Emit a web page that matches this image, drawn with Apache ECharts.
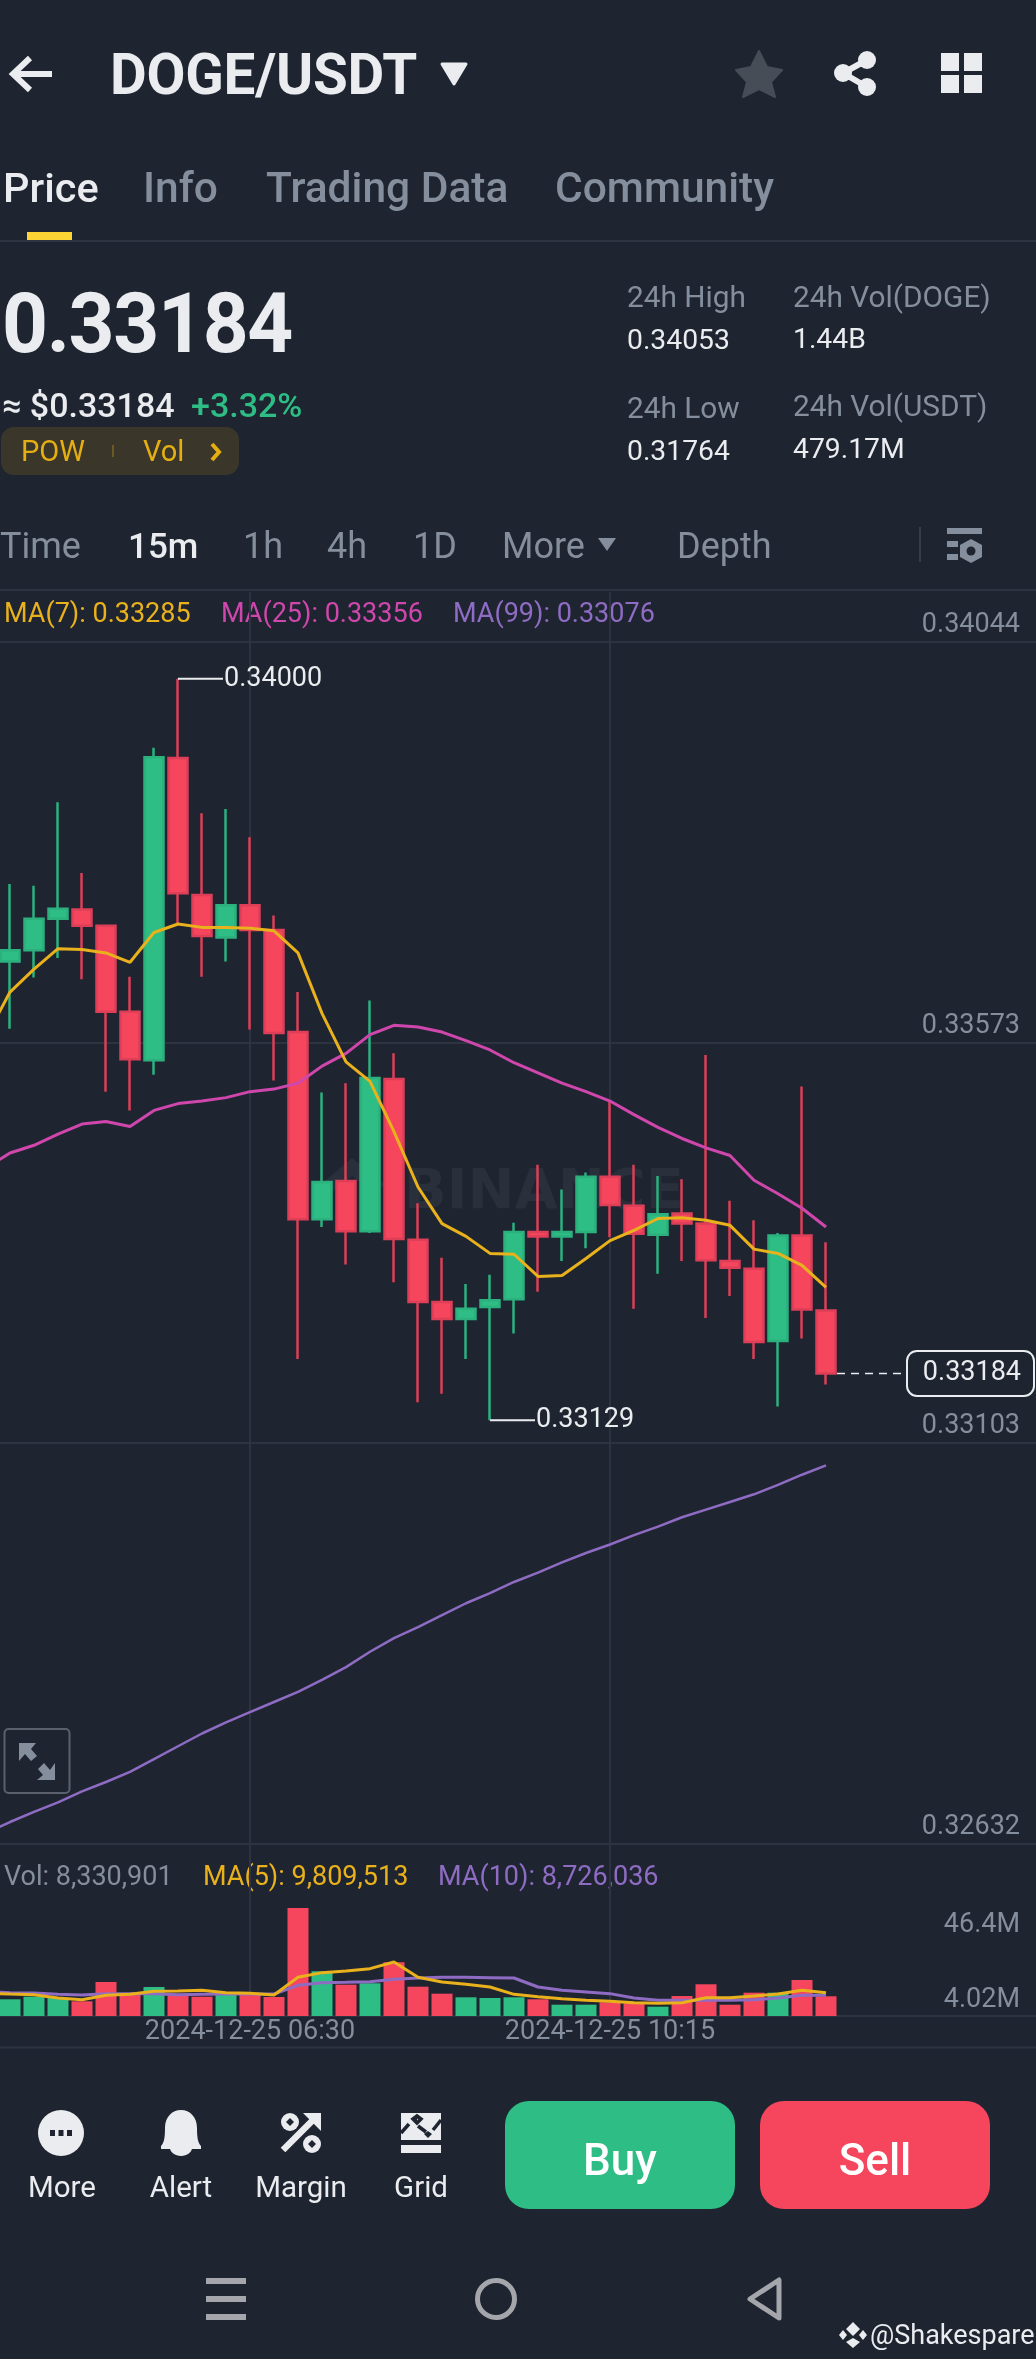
<!DOCTYPE html>
<html>
<head>
<meta charset="utf-8">
<title>DOGE/USDT</title>
<script src="https://cdn.jsdelivr.net/npm/echarts@6/dist/echarts.min.js"></script>
<style>
html, body { margin: 0; padding: 0; background: #1f2530; overflow: hidden; }
#main { position: absolute; left: 0; top: 0; width: 1036px; height: 2359px; }
#chrome { position: absolute; left: 0; top: 0; pointer-events: none; }
#chrome text { font-family: Roboto, sans-serif; dominant-baseline: central; fill: #eaecef; }
.grey { fill: #848e9c !important; }
.sub { font-size: 29.8px; }
.val { font-size: 28.3px; }
.tf { font-size: 36px; }
.tab { font-size: 42.5px; font-weight: 500; }
.foot { font-size: 29.5px; text-anchor: middle; }
</style>
</head>
<body>
<div id="main"></div>
<svg id="chrome" width="1036" height="2359" viewBox="0 0 1036 2359" xmlns="http://www.w3.org/2000/svg">
  <!-- header -->
  <path d="M52 74H14M30 58L13 74L30 90" fill="none" stroke="#eaecef" stroke-width="6"/>
  <text x="110" y="75" style="font-size:56.5px;font-weight:700;letter-spacing:-.2px">DOGE/USDT</text>
  <path d="M442 64H466L454 84Z" fill="#eaecef" stroke="#eaecef" stroke-width="3" stroke-linejoin="round"/>
  <path d="M759 51L767 67L782 70L771 82L775 97L759 89L743 97L747 82L736 70L751 67Z" fill="#474d57" stroke="#474d57" stroke-linejoin="round" stroke-width="2"/>
  <path d="M867 60L843 73L867 87" fill="none" stroke="#eaecef" stroke-width="6"/>
  <circle cx="867" cy="60" r="9" fill="#eaecef"/><circle cx="843" cy="73" r="9" fill="#eaecef"/><circle cx="867" cy="87" r="9" fill="#eaecef"/>
  <rect x="941" y="53" width="18" height="18" fill="#eaecef"/><rect x="964" y="53" width="18" height="18" fill="#eaecef"/>
  <rect x="941" y="75" width="18" height="18" fill="#eaecef"/><rect x="964" y="75" width="18" height="18" fill="#eaecef"/>

  <!-- tabs -->
  <text x="3" y="187" class="tab" style="font-size:41.5px">Price</text>
  <text x="143" y="187" class="tab grey">Info</text>
  <text x="266" y="187" class="tab grey">Trading Data</text>
  <text x="555" y="187" class="tab grey">Community</text>
  <rect x="27" y="232" width="45" height="9" fill="#fcd535"/>
  <rect x="0" y="240" width="1036" height="2" fill="#2d3340"/>

  <!-- price block -->
  <text transform="translate(2 323) scale(.955 1)" style="font-size:84px;font-weight:700;letter-spacing:-1.4px">0.33184</text>
  <text x="2" y="405" style="font-size:34px;font-weight:500">≈ $0.33184</text>
  <text x="191" y="405" style="font-size:34px;font-weight:500;fill:#2ebd85">+3.32%</text>
  <rect x="1" y="427" width="238" height="48" rx="13" fill="#3a3629"/>
  <text x="21" y="451" style="font-size:29px;fill:#e5ae12">POW</text>
  <rect x="112" y="445" width="2" height="12" fill="#6b5a22"/>
  <text x="143" y="451" style="font-size:29px;fill:#e5ae12">Vol</text>
  <path d="M212 444L219 452L212 460" fill="none" stroke="#e5ae12" stroke-width="4"/>

  <text x="627" y="296" class="sub grey">24h High</text>
  <text x="627" y="339" class="val">0.34053</text>
  <text x="627" y="407" class="sub grey">24h Low</text>
  <text x="627" y="450" class="val">0.31764</text>
  <text x="793" y="296" class="sub grey">24h Vol(DOGE)</text>
  <text x="793" y="338" class="val">1.44B</text>
  <text x="793" y="405" class="sub grey">24h Vol(USDT)</text>
  <text x="793" y="448" class="val">479.17M</text>

  <!-- timeframes -->
  <text x="0" y="546" class="tf grey">Time</text>
  <text x="128" y="546" class="tf" style="font-weight:500;font-size:35px">15m</text>
  <text x="243" y="546" class="tf grey">1h</text>
  <text x="327" y="546" class="tf grey">4h</text>
  <text x="413" y="546" class="tf grey">1D</text>
  <text x="502" y="546" class="tf grey">More</text>
  <path d="M598 538H616L607 551Z" fill="#848e9c"/>
  <text x="677" y="546" class="tf grey">Depth</text>
  <rect x="919" y="527" width="2" height="35" fill="#363c48"/>
  <path d="M947 528H982V534H947ZM947 541H958V547H947ZM947 554H958V560H947Z" fill="#848e9c"/>
  <path d="M971 539L982 545V557L971 563L960 557V545Z" fill="#848e9c"/>
  <circle cx="971" cy="551" r="4.5" fill="#1f2530"/>

  <!-- expand button -->
  <rect x="4.5" y="1729" width="65" height="64" rx="4" fill="none" stroke="#5a606c" stroke-width="2"/>
  <path d="M19 1743H36L31 1749L37 1756L31 1761L25 1754L19 1761Z" fill="#848e9c"/>
  <path d="M55 1780H37L43 1775L38 1769L44 1763L50 1770L55 1763Z" fill="#848e9c"/>

  <!-- bottom bar -->
  <circle cx="61" cy="2133" r="23" fill="#eaecef"/>
  <rect x="50" y="2130" width="5" height="6" fill="#1f2530"/><rect x="58.5" y="2130" width="5" height="6" fill="#1f2530"/><rect x="67" y="2130" width="5" height="6" fill="#1f2530"/>
  <path d="M161 2146C164 2143 165 2138 165 2128C165 2117 172 2110 181 2110C190 2110 197 2117 197 2128C197 2138 198 2143 201 2146V2149H161Z" fill="#eaecef"/>
  <path d="M170 2148H192C192 2152 187 2156 181 2156C175 2156 170 2152 170 2148Z" fill="#eaecef"/>
  <path d="M283 2150L314 2119" fill="none" stroke="#eaecef" stroke-width="6.5"/>
  <path d="M303 2113H321V2131Z" fill="#eaecef"/>
  <circle cx="290" cy="2122" r="9" fill="#eaecef"/>
  <path d="M290 2118L294 2122L290 2126L286 2122Z" fill="#1f2530"/>
  <circle cx="312" cy="2144" r="9" fill="#eaecef"/>
  <path d="M312 2140L316 2144L312 2148L308 2144Z" fill="#1f2530"/>
  <rect x="401" y="2113" width="40" height="27" fill="#eaecef"/>
  <path d="M401 2133L409 2124M417 2120L413 2119M417 2123L421 2119M417 2116L413 2119L417 2123L421 2119ZM417 2123M418 2126L426 2132M433 2130L441 2120" fill="none" stroke="#1f2530" stroke-width="3.5"/>
  <path d="M428 2131L432 2134L428 2138L424 2134Z" fill="#1f2530"/>
  <rect x="401" y="2145" width="40" height="8" fill="#eaecef"/>
  <text x="62" y="2187" class="foot">More</text>
  <text x="181" y="2187" class="foot">Alert</text>
  <text x="301" y="2187" class="foot">Margin</text>
  <text x="421" y="2187" class="foot">Grid</text>
  <rect x="505" y="2101" width="230" height="108" rx="24" fill="#2ebd85"/>
  <rect x="760" y="2101" width="230" height="108" rx="24" fill="#f6465d"/>
  <text x="620" y="2160" style="font-size:44px;font-weight:500;text-anchor:middle;fill:#fff">Buy</text>
  <text x="875" y="2160" style="font-size:44px;font-weight:500;text-anchor:middle;fill:#fff">Sell</text>

  <!-- phone nav -->
  <rect x="206" y="2278" width="40" height="6" fill="#a5a6ab"/><rect x="206" y="2296" width="40" height="6" fill="#a5a6ab"/><rect x="206" y="2314" width="40" height="6" fill="#a5a6ab"/>
  <circle cx="496" cy="2299" r="18.5" fill="none" stroke="#a5a6ab" stroke-width="5"/>
  <path d="M779 2280V2318L750 2299Z" fill="none" stroke="#a5a6ab" stroke-width="5" stroke-linejoin="round"/>
  <path d="M853 2322L860 2329L853 2336L846 2329ZM843 2330L847 2335L843 2340L839 2335ZM863 2330L867 2335L863 2340L859 2335ZM853 2338L860 2342L853 2348L846 2342Z" fill="#eaecef"/>
  <text x="870" y="2335" style="font-size:27px">@Shakespare</text>
</svg>
<script>
// 15m bars, the first one sits just off the left edge of the screen
var times = ['03:45', '04:00', '04:15', '04:30', '04:45', '05:00', '05:15', '05:30', '05:45', '06:00',
    '06:15', '06:30', '06:45', '07:00', '07:15', '07:30', '07:45', '08:00', '08:15', '08:30',
    '08:45', '09:00', '09:15', '09:30', '09:45', '10:00', '10:15', '10:30', '10:45', '11:00',
    '11:15', '11:30', '11:45', '12:00', '12:15', '12:30', '12:45', '13:00', '13:15', '13:30',
    '13:45', '14:00', '14:15', '14:30', '14:45'];
var day = '2024-12-25 ';
var axisLabelTimes = ['06:30', '10:15'];

var opens = [0.33640, 0.33668, 0.33681, 0.33718, 0.33729, 0.33710, 0.33609, 0.33552, 0.33907, 0.33746,
    0.33696, 0.33734, 0.33705, 0.33585, 0.33365, 0.33410, 0.33351, 0.33530, 0.33341, 0.33268,
    0.33248, 0.33262, 0.33271, 0.33350, 0.33345, 0.33350, 0.33415, 0.33381, 0.33347, 0.33372,
    0.33360, 0.33316, 0.33307, 0.33222, 0.33346, 0.33258];
var closes = [0.33668, 0.33681, 0.33718, 0.33730, 0.33710, 0.33609, 0.33553, 0.33908, 0.33748, 0.33698,
    0.33734, 0.33705, 0.33584, 0.33365, 0.33409, 0.33351, 0.33531, 0.33342, 0.33268, 0.33248,
    0.33260, 0.33270, 0.33350, 0.33345, 0.33350, 0.33415, 0.33382, 0.33348, 0.33371, 0.33360,
    0.33317, 0.33308, 0.33221, 0.33346, 0.33259, 0.33184];
var highs = [0.33700, 0.33759, 0.33757, 0.33855, 0.33772, 0.33710, 0.33650, 0.33919, 0.34000, 0.33842,
    0.33847, 0.33814, 0.33722, 0.33632, 0.33514, 0.33525, 0.33622, 0.33560, 0.33384, 0.33320,
    0.33289, 0.33300, 0.33361, 0.33429, 0.33400, 0.33420, 0.33505, 0.33429, 0.33416, 0.33412,
    0.33558, 0.33387, 0.33364, 0.33349, 0.33521, 0.33338];
var lows = [0.33600, 0.33589, 0.33649, 0.33672, 0.33647, 0.33515, 0.33493, 0.33535, 0.33711, 0.33650,
    0.33668, 0.33588, 0.33528, 0.33201, 0.33356, 0.33312, 0.33349, 0.33291, 0.33150, 0.33160,
    0.33201, 0.33129, 0.33231, 0.33280, 0.33316, 0.33331, 0.33344, 0.33260, 0.33301, 0.33316,
    0.33249, 0.33275, 0.33201, 0.33145, 0.33225, 0.33171];

var ma7 = [0.33579, 0.33632, 0.33659, 0.33683, 0.33682, 0.33678, 0.33667, 0.33702, 0.33712, 0.33708,
    0.33708, 0.33707, 0.33704, 0.33678, 0.33607, 0.33550, 0.33527, 0.33468, 0.33403, 0.33360,
    0.33345, 0.33325, 0.33324, 0.33298, 0.33299, 0.33319, 0.33340, 0.33352, 0.33366, 0.33367,
    0.33364, 0.33358, 0.33330, 0.33325, 0.33311, 0.33285];
var ma25 = [0.33425, 0.33443, 0.33452, 0.33465, 0.33477, 0.33480, 0.33474, 0.33493, 0.33501, 0.33504,
    0.33508, 0.33515, 0.33518, 0.33525, 0.33545, 0.33560, 0.33582, 0.33593, 0.33591, 0.33585,
    0.33575, 0.33564, 0.33549, 0.33537, 0.33525, 0.33515, 0.33504, 0.33488, 0.33473, 0.33460,
    0.33449, 0.33440, 0.33411, 0.33395, 0.33378, 0.33356];
var ma99 = [0.32644, 0.32657, 0.32669, 0.32680, 0.32693, 0.32704, 0.32716, 0.32731, 0.32746, 0.32761,
    0.32774, 0.32786, 0.32798, 0.32810, 0.32824, 0.32839, 0.32857, 0.32873, 0.32886, 0.32900,
    0.32914, 0.32926, 0.32939, 0.32950, 0.32962, 0.32973, 0.32983, 0.32994, 0.33004, 0.33015,
    0.33024, 0.33033, 0.33042, 0.33053, 0.33065, 0.33076];

// volumes in millions
var volumes = [7.5, 7.06, 8.16, 7.74, 6.22, 14.38, 8.88, 12.26, 8.88, 8.16,
    8.88, 9.30, 8.04, 45.67, 18.90, 13.24, 13.83, 22.71, 12.39, 9.43,
    7.91, 7.61, 7.91, 7.06, 4.78, 4.78, 5.79, 5.37, 3.93, 8.46,
    13.41, 4.78, 9.85, 9.85, 15.22, 8.330901];
var volMa5 = [9.6, 9.30, 9.02, 7.61, 6.91, 8.74, 9.16, 10.43, 10.57, 10.85,
    9.87, 9.59, 8.88, 16.35, 18.33, 19.03, 20.02, 22.84, 16.35, 14.38,
    13.39, 12.26, 9.16, 8.18, 7.33, 6.63, 6.20, 5.64, 5.36, 5.64,
    7.75, 7.75, 8.46, 9.30, 10.85, 9.809513];
var volMa10 = [10.15, 9.87, 9.73, 9.16, 8.88, 9.45, 9.45, 9.45, 9.02, 9.16,
    9.30, 9.30, 9.30, 12.97, 14.10, 14.24, 14.52, 15.51, 16.07, 16.35,
    16.35, 16.21, 16.07, 12.26, 10.85, 10.15, 9.45, 7.61, 6.63, 6.63,
    6.63, 6.63, 6.91, 7.61, 8.74, 8.726036];

var priceTicks = [0.32632, 0.33103, 0.33573, 0.34044];
var volTickLabels = ['46.4M', '4.02M'];

var UP = '#2ebd85', DOWN = '#f6465d', UP_WICK = '#2bb07e', DOWN_WICK = '#dc3f57';
var YELLOW = '#e9b11c', PINK = '#cf47ac', PURPLE = '#8f6cc4', GREY = '#848e9c', WHITE = '#eaecef';
var GRIDLINE = '#2d3340', FONT = 'Roboto, sans-serif';

var last = closes.length - 1;
var candles = opens.map(function (o, i) { return [o, closes[i], lows[i], highs[i]]; });
var volumeBars = volumes.map(function (v, i) {
    return { value: v, itemStyle: { color: closes[i] >= opens[i] ? UP : DOWN } };
});
var highIdx = highs.indexOf(Math.max.apply(null, highs));
var lowIdx = lows.indexOf(Math.min.apply(null, lows));

function full(v) { return Math.round(v * 1e6).toLocaleString('en-US'); }

function xAxis(gridIndex, showLabels) {
    return {
        type: 'category', gridIndex: gridIndex, data: times, boundaryGap: true,
        axisLine: { show: showLabels, lineStyle: { color: GRIDLINE, width: 2 } },
        axisTick: { show: false },
        axisLabel: {
            show: showLabels, color: GREY, fontSize: 27, fontFamily: FONT, margin: 3,
            interval: function (i, v) { return axisLabelTimes.indexOf(v) >= 0; },
            formatter: function (v) { return day + v; }
        },
        splitLine: {
            show: true, alignWithLabel: true,
            interval: function (i, v) { return axisLabelTimes.indexOf(v) >= 0; },
            lineStyle: { color: GRIDLINE, width: 2 }
        }
    };
}

function line(name, data, color, xi, yi, width) {
    return {
        name: name, type: 'line', xAxisIndex: xi, yAxisIndex: yi, data: data, showSymbol: false,
        lineStyle: { color: color, width: width }, itemStyle: { color: color }, silent: true
    };
}

// the 0.34000 / 0.33129 callouts
function renderExtreme(params, api) {
    var p = api.coord([api.value(0), api.value(1)]);
    return {
        type: 'group',
        children: [{
            type: 'line',
            shape: { x1: p[0], y1: p[1], x2: p[0] + 45, y2: p[1] },
            style: { stroke: WHITE, lineWidth: 2 }
        }, {
            type: 'text',
            style: {
                x: p[0] + 46, y: p[1], text: api.value(1).toFixed(5), fill: WHITE,
                font: '27px ' + FONT, textAlign: 'left', textVerticalAlign: 'middle'
            }
        }]
    };
}

// dashed line and boxed label of the last price
function renderLast(params, api) {
    var p = api.coord([api.value(0), api.value(1)]);
    return {
        type: 'group',
        children: [{
            type: 'line',
            shape: { x1: p[0] + 11, y1: p[1], x2: 904, y2: p[1] },
            style: { stroke: WHITE, lineWidth: 1.5, lineDash: [8, 6] }
        }, {
            type: 'rect',
            shape: { x: 907, y: p[1] - 22.5, width: 127, height: 45, r: 10 },
            style: { fill: '#1f2530', stroke: WHITE, lineWidth: 2 }
        }, {
            type: 'text',
            style: {
                x: 1021, y: p[1], text: api.value(1).toFixed(5), fill: WHITE,
                font: '27px ' + FONT, textAlign: 'right', textVerticalAlign: 'middle'
            }
        }]
    };
}

function legendText(x, y, text, color) {
    return {
        type: 'text', x: x, y: y, silent: true,
        style: { text: text, fill: color, font: '27px ' + FONT, verticalAlign: 'middle' }
    };
}

var myChart = echarts.init(document.getElementById('main'));
var option = {
    backgroundColor: '#1f2530',
    animation: false,
    grid: [
        { left: -26, top: 592, width: 1080, height: 1251.3, outerBoundsMode: 'none' },
        { left: -26, top: 1843.3, width: 1080, height: 172.7, outerBoundsMode: 'none' }
    ],
    xAxis: [xAxis(0, false), xAxis(1, true)],
    yAxis: [{
        type: 'value', gridIndex: 0, position: 'right', min: 0.32632, max: 0.34102, scale: true,
        axisLine: { show: false },
        axisTick: { show: false, customValues: priceTicks },
        axisLabel: {
            inside: true, customValues: priceTicks, color: GREY, fontSize: 27, fontFamily: FONT,
            margin: 34, verticalAlign: 'bottom', padding: [0, 0, 3, 0],
            formatter: function (v) { return v.toFixed(5); }
        },
        splitLine: { show: true, lineStyle: { color: GRIDLINE, width: 2 } }
    }, {
        type: 'value', gridIndex: 1, position: 'right', min: 0, max: 73,
        axisLine: { show: false }, axisTick: { show: false }, axisLabel: { show: false },
        splitLine: { show: false }
    }],
    graphic: [
        // line under the timeframes and the one under the dates
        { type: 'rect', shape: { x: 0, y: 589, width: 1036, height: 2 }, style: { fill: GRIDLINE }, silent: true },
        { type: 'rect', shape: { x: 0, y: 2046.5, width: 1036, height: 2 }, style: { fill: GRIDLINE }, silent: true },
        // watermark
        {
            type: 'text', x: 404, y: 1193, silent: true,
            style: { text: 'BINANCE', fill: '#2a303b', font: 'bold 56px "DejaVu Sans", sans-serif', verticalAlign: 'middle' }
        },
        {
            type: 'polygon', silent: true,
            shape: { points: [[352, 1158], [386, 1185], [372, 1192], [352, 1176], [332, 1192], [320, 1185]] },
            style: { fill: '#2a303b' }
        },
        legendText(4, 615, 'MA(7): ' + ma7[last].toFixed(5), YELLOW),
        legendText(221, 615, 'MA(25): ' + ma25[last].toFixed(5), PINK),
        legendText(453, 615, 'MA(99): ' + ma99[last].toFixed(5), PURPLE),
        legendText(4, 1878, 'Vol: ' + full(volumes[last]), GREY),
        legendText(203, 1878, 'MA(5): ' + full(volMa5[last]), YELLOW),
        legendText(438, 1878, 'MA(10): ' + full(volMa10[last]), PURPLE),
        {
            type: 'text', x: 1020, y: 1925, silent: true,
            style: { text: volTickLabels[0], fill: GREY, font: '27px ' + FONT, align: 'right', verticalAlign: 'middle' }
        },
        {
            type: 'text', x: 1020, y: 2000, silent: true,
            style: { text: volTickLabels[1], fill: GREY, font: '27px ' + FONT, align: 'right', verticalAlign: 'middle' }
        }
    ],
    series: [
        {
            type: 'candlestick', xAxisIndex: 0, yAxisIndex: 0, data: candles, barWidth: 19,
            itemStyle: { color: UP, color0: DOWN, borderColor: UP_WICK, borderColor0: DOWN_WICK, borderWidth: 2.5 },
            silent: true
        },
        line('MA(99)', ma99, PURPLE, 0, 0, 2.5),
        line('MA(25)', ma25, PINK, 0, 0, 3),
        line('MA(7)', ma7, YELLOW, 0, 0, 3),
        {
            type: 'custom', xAxisIndex: 0, yAxisIndex: 0, renderItem: renderExtreme, silent: true, z: 5,
            encode: { x: 0, y: 1 },
            data: [[highIdx, highs[highIdx]], [lowIdx, lows[lowIdx]]]
        },
        {
            type: 'custom', xAxisIndex: 0, yAxisIndex: 0, renderItem: renderLast, silent: true, z: 5,
            encode: { x: 0, y: 1 }, clip: false,
            data: [[last, closes[last]]]
        },
        { type: 'bar', xAxisIndex: 1, yAxisIndex: 1, data: volumeBars, barWidth: 21, silent: true },
        line('Vol MA(10)', volMa10, PURPLE, 1, 1, 3),
        line('Vol MA(5)', volMa5, YELLOW, 1, 1, 3)
    ]
};
myChart.setOption(option);
</script>
</body>
</html>
